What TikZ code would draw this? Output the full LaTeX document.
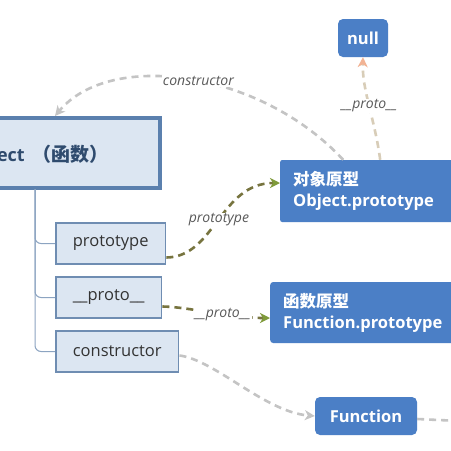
\documentclass[tikz,border=0pt]{standalone}
\usepackage{fontspec}
\setmainfont{Open Sans}
\newfontfamily\cjk{Noto Sans CJK SC}
\usepackage{xcolor}
\usetikzlibrary{positioning, calc, arrows.meta}

\definecolor{boxfill}{HTML}{DCE6F2}
\definecolor{boxline}{HTML}{6F8DB2}
\definecolor{bigline}{HTML}{5B80AE}
\definecolor{protoblue}{HTML}{4B7FC6}
\definecolor{linkgray}{HTML}{C4C4C4}
\definecolor{olive}{HTML}{77743F}
\definecolor{olivetip}{HTML}{7F9A3A}
\definecolor{nullline}{HTML}{D8CDB8}
\definecolor{nulltip}{HTML}{F2B394}
\definecolor{textdark}{HTML}{2F4B6E}

\begin{document}
\begin{tikzpicture}[x=1pt, y=-1pt,
  item/.style={draw=boxline, line width=1.6pt, fill=boxfill, minimum height=41pt,
    inner xsep=17pt, anchor=west, font=\fontsize{16.5}{18}\selectfont, text=black!80},
  proto/.style={fill=protoblue, rounded corners=3pt, text=white,
    font=\bfseries\fontsize{16.5}{21}\selectfont},
  lbl/.style={fill=white, inner sep=1pt, text=black!65,
    font=\itshape\fontsize{14}{16}\selectfont},
  graylink/.style={draw=linkgray, dash pattern=on 7pt off 5pt, line width=2.6pt,
    -{Stealth[length=10pt, width=10pt, inset=3pt, fill=linkgray]}},
  olivelink/.style={draw=olive, dash pattern=on 7pt off 5pt, line width=2.6pt,
    -{Stealth[length=10pt, width=10pt, inset=3pt, fill=olivetip, color=olivetip]}}]
\useasboundingbox[fill=white] (0,0) rectangle (451,451);
\begin{scope}
\clip (0,0) rectangle (451,451);

% Constructor function
\node[draw=bigline, line width=4pt, fill=boxfill, minimum width=248pt, minimum height=70pt]
  (objfn) at (36,153) {};
\node[anchor=east, inner sep=0pt, text=textdark, font=\bfseries\fontsize{18}{20}\selectfont]
  (objname) at (109,155) {Object\hspace{8pt}{\cjk\fontsize{19}{20}\selectfont （函数）}};

% Its properties
\node[item] (prototype) at (55,243.5) {prototype};
\node[item] (protoprop) at (55,297.5) {\_\_proto\_\_};
\node[item] (ctorprop) at (55,351.5) {constructor};

% Tree lines
\coordinate (trunk) at (35,189);
\draw[boxline!80, line width=1pt, rounded corners=6pt] (trunk) |- (prototype.west);
\draw[boxline!80, line width=1pt, rounded corners=6pt] (trunk) |- (protoprop.west);
\draw[boxline!80, line width=1pt, rounded corners=6pt] (trunk) |- (ctorprop.west);

% Prototype objects
\node[proto, minimum height=38pt, minimum width=50pt, rounded corners=5pt] (null) at (363,38) {null};
\node[proto, anchor=west, minimum height=62pt, text width=150pt, inner xsep=13pt, align=left,
  rounded corners=2pt] (objproto) at (280,191) {{\cjk\fontsize{16.5}{21}\selectfont 对象原型}\\Object.prototype};
\node[proto, anchor=west, minimum height=61pt, text width=170pt, inner xsep=13pt, align=left]
  (fnproto) at (270,312.5) {{\cjk\fontsize{16.5}{21}\selectfont 函数原型}\\Function.prototype};
\node[proto, minimum height=38pt, minimum width=102pt, rounded corners=5pt] (function) at (366,416) {Function};

% Links
\draw[graylink] ($(objproto.north)+(-25,0)$) .. controls (260,70) and (110,50) ..
  ($(objfn.north)+(19,0)$) node[lbl, pos=0.47] {constructor};
\draw[draw=nullline, dash pattern=on 7pt off 5pt, line width=2.6pt,
  -{Stealth[length=10pt, width=10pt, inset=3pt, fill=nulltip, color=nulltip]}]
  ($(objproto.north)+(12,0)$) .. controls (375,120) and (362,90) .. (null.south)
  node[lbl, pos=0.5] {\_\_proto\_\_};
\draw[olivelink] ($(prototype.east)+(0,14)$) .. controls (215,257) and (220,183) ..
  ($(objproto.west)+(0,-8)$) node[lbl, pos=0.5] {prototype};
\draw[olivelink] ($(protoprop.east)+(0,9)$) .. controls (190,307) and (230,318) ..
  ($(fnproto.west)+(0,5.5)$) node[lbl, pos=0.6] {\_\_proto\_\_};
\draw[graylink] ($(ctorprop.east)+(0,4)$) .. controls (215,360) and (265,412) .. (function.west);
\draw[draw=linkgray, dash pattern=on 7pt off 5pt, line width=2.6pt] ($(function.east)+(0,3)$) -- (460,421);
\end{scope}
\end{tikzpicture}
\end{document}
